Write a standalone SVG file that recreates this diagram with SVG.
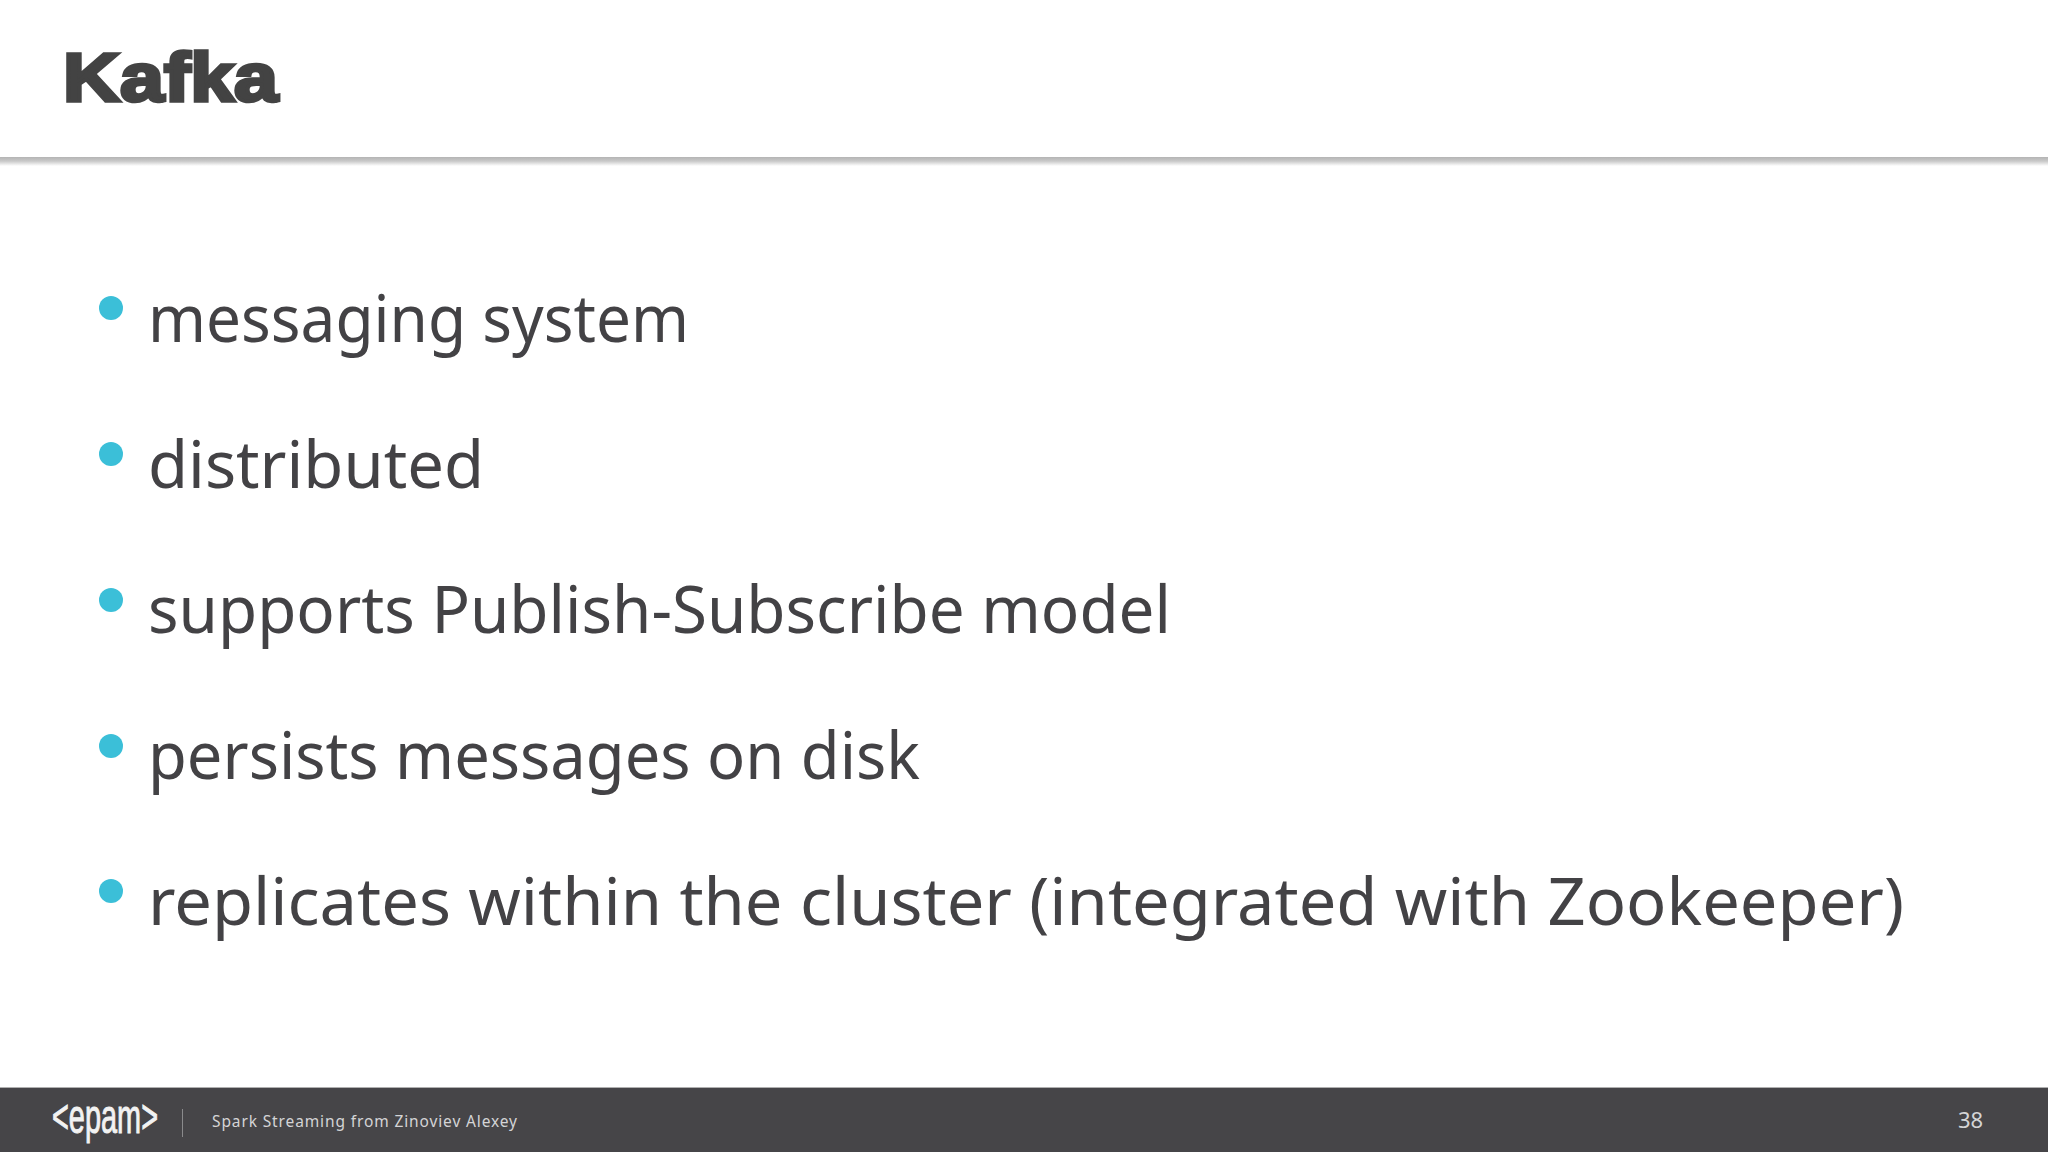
<svg xmlns="http://www.w3.org/2000/svg" width="2048" height="1152" viewBox="0 0 2048 1152">
<defs>
<linearGradient id="sh" x1="0" y1="0" x2="0" y2="1"><stop offset="0" stop-color="#b4b4b4"/><stop offset="0.45" stop-color="#c8c8c8"/><stop offset="1" stop-color="#ffffff"/></linearGradient>
</defs>
<style>
.b{font-family:"Noto Sans","Open Sans",sans-serif;font-size:66px;fill:#434245}
.d{fill:#3bbfd8}
.f{font-family:"Noto Sans","Open Sans",sans-serif;fill:#d4d4d6}
</style>
<rect width="2048" height="1152" fill="#ffffff"/>
<rect x="0" y="157" width="2048" height="9" fill="url(#sh)"/>
<text id="title" x="63" y="101" font-family="Liberation Sans,Arial,sans-serif" font-weight="700" font-size="68" fill="#434343" stroke="#434343" stroke-width="3.5" textLength="215" lengthAdjust="spacingAndGlyphs">Kafka</text>
<g id="bullet1"><circle class="d" cx="111" cy="308" r="12"/><text class="b" x="148" y="342" textLength="541" lengthAdjust="spacingAndGlyphs">messaging system</text></g>
<g id="bullet2"><circle class="d" cx="111" cy="454" r="12"/><text class="b" x="148" y="488" textLength="336" lengthAdjust="spacingAndGlyphs">distributed</text></g>
<g id="bullet3"><circle class="d" cx="111" cy="600" r="12"/><text class="b" x="148" y="633" textLength="1023" lengthAdjust="spacingAndGlyphs">supports Publish-Subscribe model</text></g>
<g id="bullet4"><circle class="d" cx="111" cy="746" r="12"/><text class="b" x="148" y="779" textLength="772" lengthAdjust="spacingAndGlyphs">persists messages on disk</text></g>
<g id="bullet5"><circle class="d" cx="111" cy="891" r="12"/><text class="b" x="148" y="925" textLength="1756" lengthAdjust="spacingAndGlyphs">replicates within the cluster (integrated with Zookeeper)</text></g>
<g id="footer">
<rect x="0" y="1088" width="2048" height="64" fill="#464548"/>
<rect x="0" y="1087" width="2048" height="1" fill="#b0b0b0"/>
<text x="52" y="1133" font-family="Liberation Sans,Arial,sans-serif" font-size="48" fill="#f2f2f2" stroke="#f2f2f2" stroke-width="1" textLength="106" lengthAdjust="spacingAndGlyphs">&lt;epam&gt;</text>
<rect x="182" y="1109" width="1" height="28" fill="#8a8a8c"/>
<text class="f" x="212" y="1127" font-size="15.500" textLength="305" lengthAdjust="spacing">Spark Streaming from Zinoviev Alexey</text>
<text class="f" x="1958" y="1128" font-size="22">38</text>
</g>
</svg>
